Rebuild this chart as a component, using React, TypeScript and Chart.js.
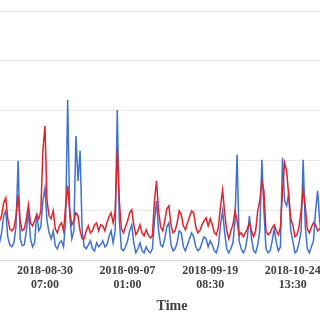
import React, { useEffect, useRef } from "react";
import { Chart, registerables } from "chart.js";

Chart.register(...registerables);

// Red series (upper line)
const redSeries = [
  30, 35, 45, 32, 40, 45, 58, 63, 42, 32,
  30, 33, 45, 66, 40, 30, 32, 42, 56, 38,
  35, 40, 46, 42, 50, 110, 135, 60, 45, 42,
  50, 32, 28, 35, 38, 30, 55, 75, 50, 36,
  40, 48, 45, 30, 22, 22, 30, 35, 28, 30,
  36, 38, 30, 36, 35, 30, 38, 44, 48, 38,
  50, 111, 60, 32, 28, 34, 40, 48, 51, 36,
  26, 30, 36, 28, 25, 31, 26, 23, 25, 60,
  80, 50, 34, 30, 40, 52, 55, 36, 28, 30,
  38, 50, 46, 35, 31, 38, 44, 50, 48, 34,
  28, 30, 36, 40, 43, 35, 42, 36, 28, 26,
  34, 55, 71, 48, 30, 22, 30, 36, 50, 40,
  26, 28, 24, 28, 32, 38, 30, 24, 30, 50,
  60, 80, 70, 30, 26, 28, 33, 36, 30, 26,
  34, 70, 98, 90, 65, 42, 36, 24, 26, 34,
  50, 71, 55, 32, 28, 34, 38, 36, 30, 32,
  34, 40, 50, 38, 30, 28, 34, 42, 36, 30,
  28, 36, 48, 40, 32, 30,
];

// Blue series (lower line)
const blueSeries = [
  14, 18, 25, 16, 18, 28, 45, 50, 24, 16,
  14, 18, 35, 100, 22, 15, 16, 30, 50, 22,
  14, 18, 48, 30, 34, 60, 73, 40, 28, 22,
  30, 15, 12, 18, 20, 14, 40, 161, 45, 22,
  30, 125, 80, 110, 30, 14, 12, 16, 20, 12,
  10, 18, 14, 16, 20, 14, 16, 24, 30, 18,
  30, 151, 40, 12, 10, 14, 20, 30, 36, 18,
  8, 12, 18, 10, 8, 14, 10, 8, 12, 40,
  60, 30, 16, 14, 22, 34, 38, 16, 10, 12,
  18, 30, 28, 14, 10, 16, 22, 28, 24, 14,
  10, 12, 18, 24, 22, 14, 20, 16, 10, 8,
  16, 36, 50, 28, 12, 8, 12, 18, 40, 106,
  20, 12, 8, 12, 24, 45, 22, 10, 8, 16,
  30, 101, 50, 12, 8, 10, 20, 32, 18, 10,
  14, 103, 60, 55, 68, 30, 20, 8, 10, 18,
  30, 101, 35, 12, 8, 14, 20, 50, 70, 40,
  20, 28, 40, 18, 12, 10, 16, 24, 18, 12,
  10, 20, 30, 22, 14, 12,
];

const tickIndices = [26, 66, 106, 146];
const tickDates = ["2018-08-30", "2018-09-07", "2018-09-19", "2018-10-24"];
const tickTimes = ["07:00", "01:00", "08:30", "13:30"];

const yMin = 0;
const yMax = 250;
const yStep = 50;

export default function App() {
  const ref = useRef<HTMLCanvasElement | null>(null);

  useEffect(() => {
    if (!ref.current) return;
    const labels = redSeries.map((_, i) => {
      const k = tickIndices.indexOf(i);
      return k >= 0 ? [tickDates[k], tickTimes[k]] : "";
    });
    const chart = new Chart(ref.current, {
      type: "line",
      data: {
        labels,
        datasets: [
          {
            label: "A",
            data: redSeries,
            borderColor: "#e0232b",
            borderWidth: 1.5,
            pointRadius: 0,
            tension: 0,
            fill: false,
          },
          {
            label: "B",
            data: blueSeries,
            borderColor: "#3f72cf",
            borderWidth: 1.5,
            pointRadius: 0,
            tension: 0,
            fill: false,
          },
        ],
      },
      options: {
        responsive: false,
        animation: false,
        layout: { padding: { left: 11.25, right: 7.25, top: 11, bottom: 5.6 } },
        plugins: { legend: { display: false }, tooltip: { enabled: false } },
        scales: {
          x: {
            type: "category",
            offset: false,
            grid: { display: false, drawTicks: false },
            border: { display: true, color: "#d9d9d9", width: 1 },
            ticks: {
              autoSkip: false,
              maxRotation: 0,
              minRotation: 0,
              padding: 3,
              color: "#404040",
              font: { family: "'Liberation Serif', 'Times New Roman', serif", size: 12, weight: "bold" },
            },
            title: {
              display: true,
              text: "Time",
              color: "#404040",
              padding: { top: 2, bottom: 0 },
              font: { family: "'Liberation Serif', 'Times New Roman', serif", size: 14, weight: "bold" },
            },
          },
          y: {
            min: yMin,
            max: yMax,
            ticks: { display: false, stepSize: yStep },
            grid: { color: "#e8e8e8", drawTicks: false },
            border: { display: false },
          },
        },
      },
    });
    return () => chart.destroy();
  }, []);

  return (
    <div
      style={{
        position: "fixed",
        left: 0,
        top: 0,
        width: 320,
        height: 320,
        overflow: "hidden",
        background: "#ffffff",
      }}
    >
      <canvas
        ref={ref}
        width={380}
        height={320}
        style={{ position: "absolute", left: -20, top: 0, width: 380, height: 320 }}
      />
    </div>
  );
}
